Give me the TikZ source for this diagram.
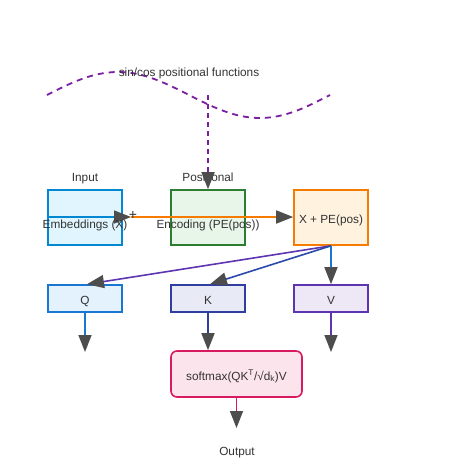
\documentclass[tikz,border=0pt]{standalone}
\usepackage{fontspec}
\setmainfont{Liberation Sans}
\usetikzlibrary{arrows.meta}
\definecolor{txtgray}{HTML}{333333}
\definecolor{tipgray}{HTML}{4D4D4D}
\definecolor{inblue}{HTML}{0288D1}
\definecolor{infill}{HTML}{E1F5FE}
\definecolor{posgreen}{HTML}{2E7D32}
\definecolor{posfill}{HTML}{E8F5E9}
\definecolor{sumorange}{HTML}{F57C00}
\definecolor{sumfill}{HTML}{FFF3E0}
\definecolor{qblue}{HTML}{1976D2}
\definecolor{qfill}{HTML}{E3F2FD}
\definecolor{kindigo}{HTML}{303F9F}
\definecolor{kfill}{HTML}{E8EAF6}
\definecolor{vpurple}{HTML}{5E35B1}
\definecolor{vfill}{HTML}{EDE7F6}
\definecolor{smpink}{HTML}{D81B60}
\definecolor{smfill}{HTML}{FCE4EC}
\definecolor{wavepurple}{HTML}{7B1FA2}

\begin{document}
\begin{tikzpicture}[x=1pt,y=-1pt,
 font=\fontsize{11.8}{13}\selectfont, text=txtgray,
 box/.style={draw, line width=1.6pt, inner sep=0pt, text height=12pt, text depth=0pt},
 bigbox/.style={box, minimum width=74pt, minimum height=55pt},
 qkvbox/.style={box, minimum width=74pt, minimum height=27pt},
 lbl/.style={anchor=base, inner sep=0pt},
 tip/.style={line width=1.6pt, -{Triangle[length=17pt,width=13pt,color=tipgray]}},
 wave/.style={wavepurple, line width=1.8pt, dash pattern=on 6pt off 5pt}]
\useasboundingbox (0,0) rectangle (474,474);
 %wave
 \draw[wave] (47,95) sin (118,72) cos (189,95) sin (260,118) cos (330,95);
 \node[lbl] (wavetxt) at (189,76.5) {sin/cos positional functions};
 \coordinate (wavedrop) at (208,95);
 %top row
 \node[bigbox, fill=infill, draw=inblue] (inp) at (85,217.5) {};
 \node[bigbox, fill=posfill, draw=posgreen] (pos) at (208,217.5) {};
 \node[bigbox, fill=sumfill, draw=sumorange] (sum) at (331,217.5) {X + PE(pos)};
 \node[lbl] (inptop) at (85,181) {Input};
 \node[lbl] (postop) at (208,181) {Positional};
 \coordinate (inpw) at (47,217);
 \coordinate (plus) at (131,217);
 \draw[tip, inblue] (inpw) -- (plus);
 \draw[tip, sumorange] (plus) -- (sum.west |- plus);
 \node[lbl, font=\fontsize{14}{14}\selectfont] (plustxt) at (133,219) {+};
 \node[lbl] (inpbot) at (85,228) {Embeddings (X)};
 \node[lbl] (posbot) at (208,228) {Encoding (PE(pos))};
 \draw[tip, wave, dash pattern=on 5pt off 4pt] (wavedrop) -- (pos.north);
 %Q K V
 \node[qkvbox, fill=qfill, draw=qblue] (q) at (85,298.5) {Q};
 \node[qkvbox, fill=kfill, draw=kindigo] (k) at (208,298.5) {K};
 \node[qkvbox, fill=vfill, draw=vpurple] (v) at (331,298.5) {V};
 \draw[tip, vpurple] (sum.south) -- ([xshift=2pt]q.north);
 \draw[tip, kindigo!80!qblue] (sum.south) -- ([xshift=2pt]k.north);
 \draw[tip, qblue] (sum.south) -- (v.north);
 %softmax
 \node[box, rounded corners=6pt, fill=smfill, draw=smpink,
  minimum width=131pt, minimum height=46pt] (sm) at (236.5,374)
  {softmax(QK\textsuperscript{T}/√d\textsubscript{k})V};
 \coordinate (qend) at (85,352);
 \coordinate (vend) at (331,352);
 \coordinate (smend) at (236.5,428);
 \draw[tip, qblue] (q.south) -- (qend);
 \draw[tip, kindigo] (k.south) -- (k.south |- sm.north);
 \draw[tip, vpurple] (v.south) -- (vend);
 \draw[tip, smpink] (sm.south) -- (smend);
 \node[lbl] (out) at (237,455) {Output};
\end{tikzpicture}
\end{document}
